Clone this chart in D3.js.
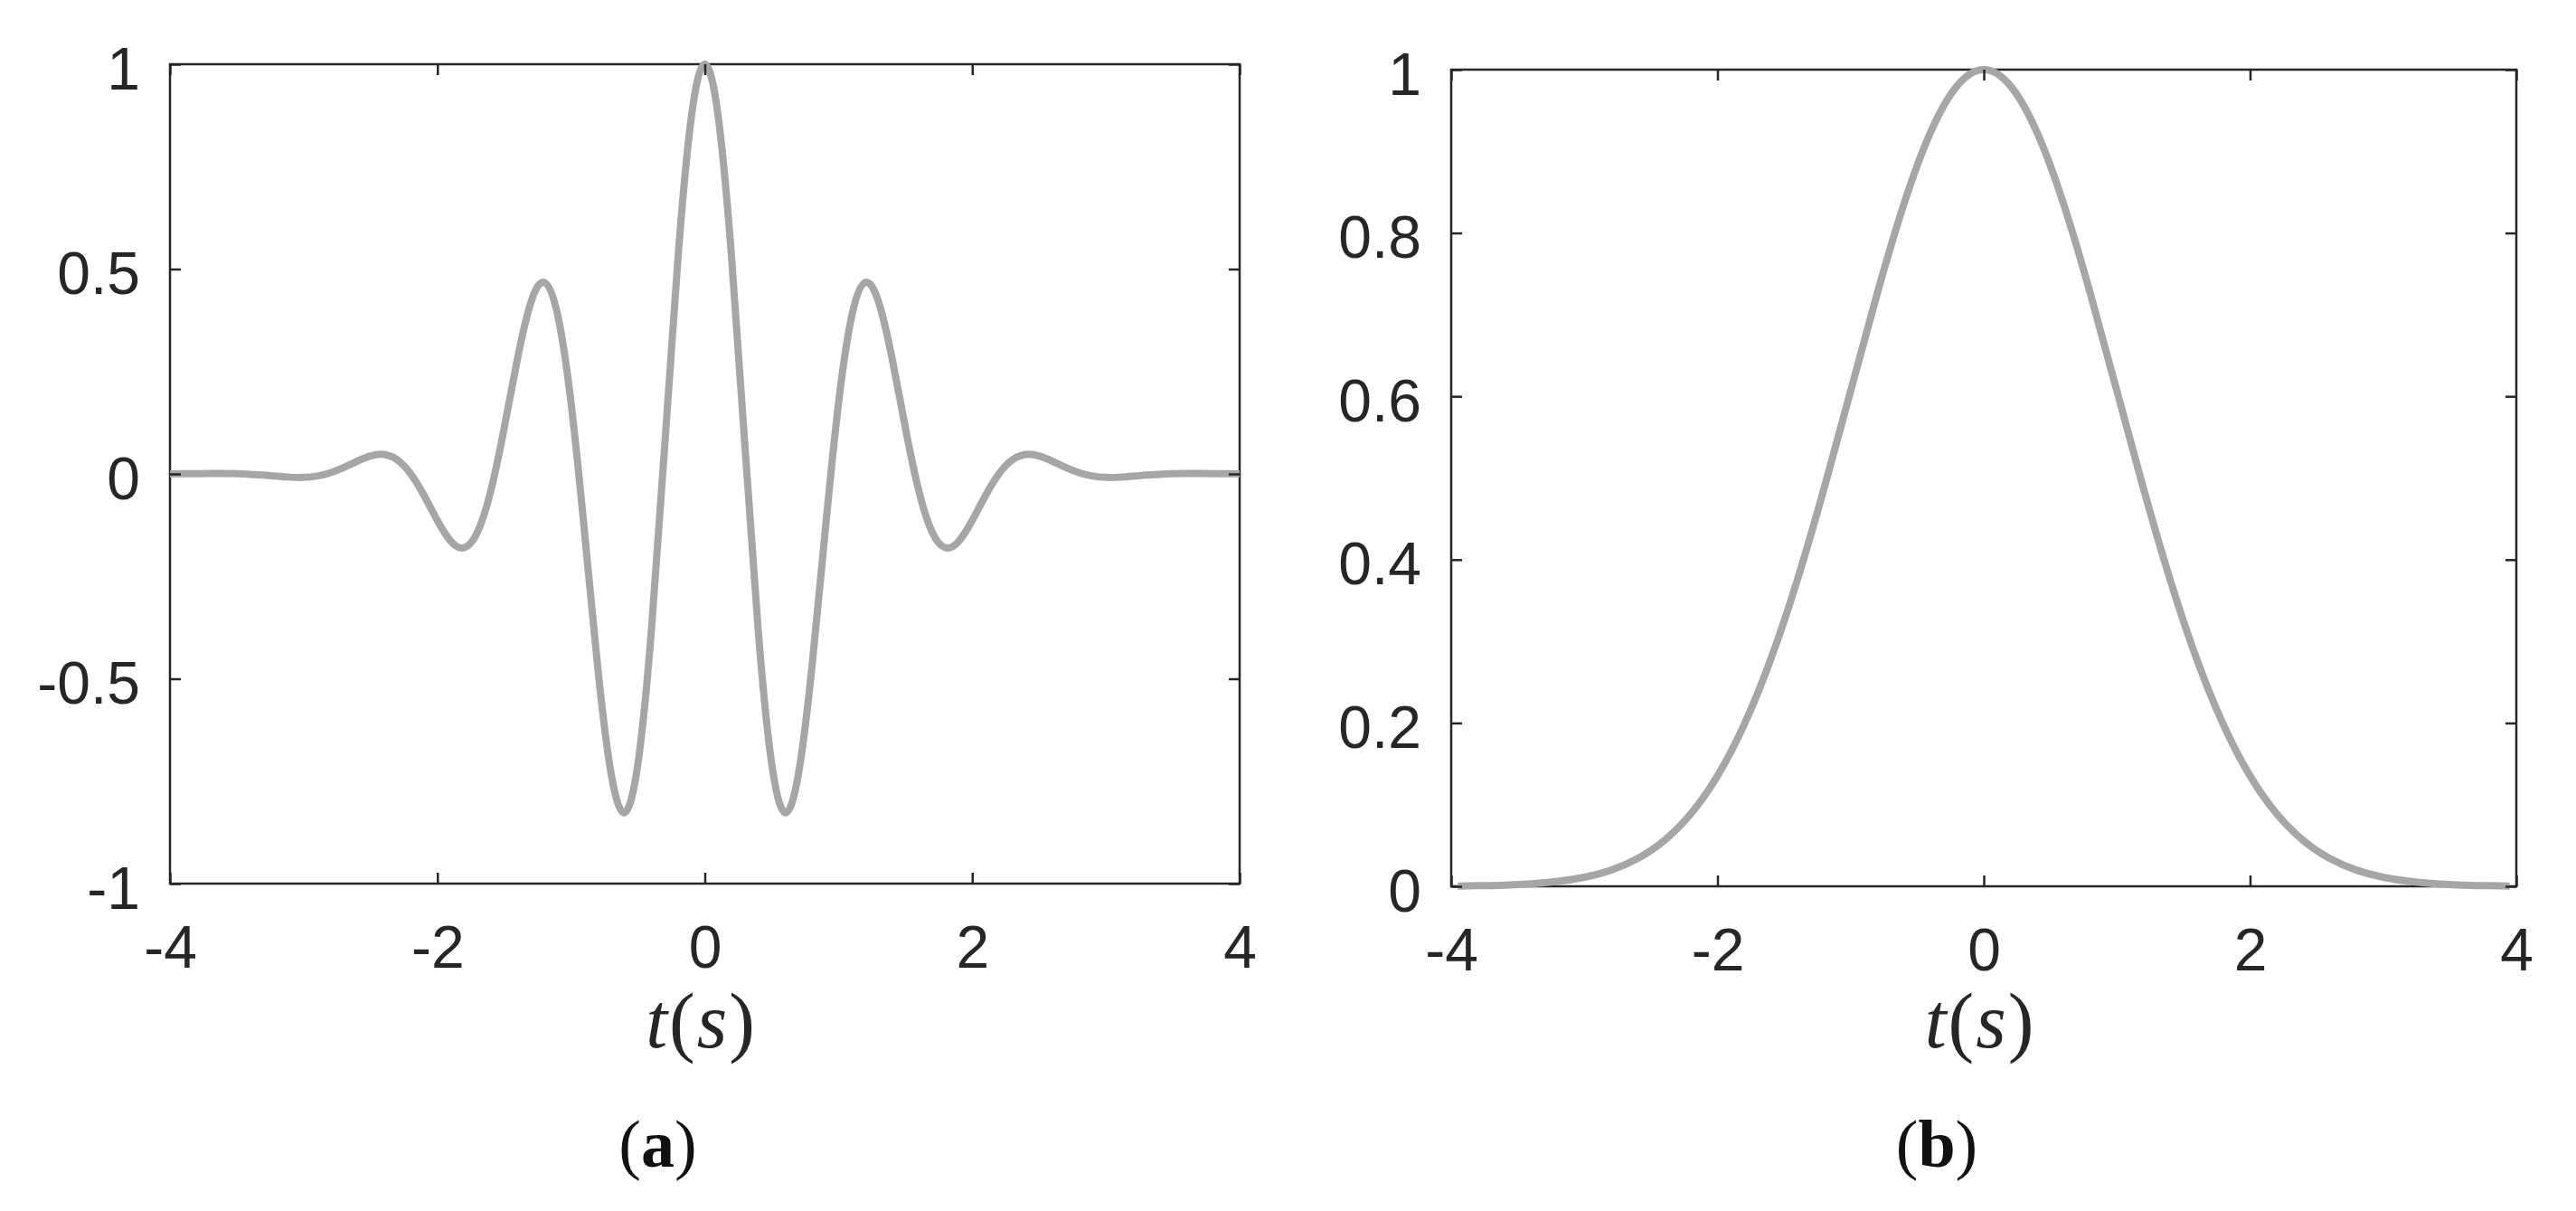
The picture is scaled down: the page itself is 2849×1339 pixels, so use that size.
<!DOCTYPE html>
<html>
<head>
<meta charset="utf-8">
<script src="https://cdn.jsdelivr.net/npm/d3@7"></script>
<style>
body { margin: 0; background: #fff; }
</style>
</head>
<body>
<svg width="2849" height="1339"></svg>
<script>
// values
var tWave = [-4.0, -3.9, -3.8, -3.7, -3.6, -3.5, -3.4, -3.3, -3.2, -3.1,
    -3.0, -2.9, -2.8, -2.7, -2.6, -2.5, -2.4, -2.3, -2.2, -2.1,
    -2.0, -1.9, -1.8, -1.7, -1.6, -1.5, -1.4, -1.3, -1.2, -1.1,
    -1.0, -0.9, -0.8, -0.7, -0.6, -0.5, -0.4, -0.3, -0.2, -0.1,
    0.0, 0.1, 0.2, 0.3, 0.4, 0.5, 0.6, 0.7, 0.8, 0.9,
    1.0, 1.1, 1.2, 1.3, 1.4, 1.5, 1.6, 1.7, 1.8, 1.9,
    2.0, 2.1, 2.2, 2.3, 2.4, 2.5, 2.6, 2.7, 2.8, 2.9,
    3.0, 3.1, 3.2, 3.3, 3.4, 3.5, 3.6, 3.7, 3.8, 3.9, 4.0];
var yWave = [0.0001, 0.0004, 0.0007, 0.0010, 0.0010, 0.0005, -0.0009, -0.0030, -0.0057, -0.0080,
    -0.0084, -0.0053, 0.0027, 0.0155, 0.0309, 0.0438, 0.0474, 0.0343, 0.0004, -0.0524,
    -0.1136, -0.1640, -0.1803, -0.1419, -0.0405, 0.1125, 0.2829, 0.4195, 0.4674, 0.3870,
    0.1720, -0.1406, -0.4746, -0.7330, -0.8269, -0.7070, -0.3842, 0.0676, 0.5296, 0.8732,
    1.0, 0.8732, 0.5296, 0.0676, -0.3842, -0.7070, -0.8269, -0.7330, -0.4746, -0.1406,
    0.1720, 0.3870, 0.4674, 0.4195, 0.2829, 0.1125, -0.0405, -0.1419, -0.1803, -0.1640,
    -0.1136, -0.0524, 0.0004, 0.0343, 0.0474, 0.0438, 0.0309, 0.0155, 0.0027, -0.0053,
    -0.0084, -0.0080, -0.0057, -0.0030, -0.0009, 0.0005, 0.0010, 0.0010, 0.0007, 0.0004, 0.0001];

var tGauss = [-3.95, -3.8, -3.6, -3.4, -3.2, -3.0, -2.8, -2.6, -2.4, -2.2,
    -2.0, -1.8, -1.6, -1.4, -1.2, -1.0, -0.8, -0.6, -0.4, -0.2,
    0.0, 0.2, 0.4, 0.6, 0.8, 1.0, 1.2, 1.4, 1.6, 1.8,
    2.0, 2.2, 2.4, 2.6, 2.8, 3.0, 3.2, 3.4, 3.6, 3.8, 3.95];
var yGauss = [0.0004, 0.0007, 0.0015, 0.0031, 0.0060, 0.0111, 0.0198, 0.0340, 0.0561, 0.0889,
    0.1353, 0.1979, 0.2780, 0.3753, 0.4868, 0.6065, 0.7261, 0.8353, 0.9231, 0.9802,
    1.0, 0.9802, 0.9231, 0.8353, 0.7261, 0.6065, 0.4868, 0.3753, 0.2780, 0.1979,
    0.1353, 0.0889, 0.0561, 0.0340, 0.0198, 0.0111, 0.0060, 0.0031, 0.0015, 0.0007, 0.0004];

var xTicks = [-4, -2, 0, 2, 4];
var yTicksA = [-1, -0.5, 0, 0.5, 1];
var yTicksB = [0, 0.2, 0.4, 0.6, 0.8, 1];
var captions = ['a', 'b'];

var svg = d3.select('svg');
var axisColor = '#262626';
var lineColor = '#a6a6a6';
var tickFont = '"Liberation Sans", Arial, sans-serif';
var mathFont = '"Liberation Serif", "Times New Roman", serif';

function drawPanel(box, tArr, yArr, yDomain, yTicks, cap) {
    var x = d3.scaleLinear().domain([-4, 4]).range([box.x0, box.x1]);
    var y = d3.scaleLinear().domain(yDomain).range([box.y1, box.y0]);
    var g = svg.append('g');

    // box
    g.append('rect').
        attr('x', box.x0).attr('y', box.y0).
        attr('width', box.x1 - box.x0).attr('height', box.y1 - box.y0).
        attr('fill', 'none').attr('stroke', axisColor).attr('stroke-width', 2.5);

    // curve
    var pts = tArr.map(function (t, i) { return [t, yArr[i]]; });
    var line = d3.line().
        x(function (d) { return x(d[0]); }).
        y(function (d) { return y(d[1]); }).
        curve(d3.curveNatural);
    g.append('path').
        attr('d', line(pts)).
        attr('fill', 'none').
        attr('stroke', lineColor).
        attr('stroke-width', 8).
        attr('stroke-linejoin', 'round');

    // ticks on all four sides, pointing in
    var left = g.append('g').attr('transform', 'translate(' + box.x0 + ',0)').
        call(d3.axisLeft(y).tickValues(yTicks).tickSizeInner(-12).tickSizeOuter(0).
            tickPadding(33).tickFormat(function (d) { return String(d); }));
    left.selectAll('text').attr('dy', 27);
    g.append('g').attr('transform', 'translate(' + box.x1 + ',0)').
        call(d3.axisRight(y).tickValues(yTicks).tickSizeInner(-12).tickSizeOuter(0).tickFormat(''));
    g.append('g').attr('transform', 'translate(0,' + box.y1 + ')').
        call(d3.axisBottom(x).tickValues(xTicks).tickSizeInner(-12).tickSizeOuter(0).
            tickPadding(46).tickFormat(function (d) { return String(d); }));
    g.append('g').attr('transform', 'translate(0,' + box.y0 + ')').
        call(d3.axisTop(x).tickValues(xTicks).tickSizeInner(-12).tickSizeOuter(0).tickFormat(''));

    g.selectAll('.domain').remove();
    g.selectAll('.tick line').attr('stroke', axisColor).attr('stroke-width', 2.5);
    g.selectAll('.tick text').
        attr('fill', axisColor).
        attr('font-family', tickFont).
        attr('font-size', 66);

    // x label t(s)
    var lab = g.append('text').
        attr('x', x(0) - 4).attr('y', 1158).
        attr('text-anchor', 'middle').
        attr('font-family', mathFont).
        attr('font-size', 86).
        attr('letter-spacing', 2).
        attr('fill', axisColor);
    lab.append('tspan').attr('font-style', 'italic').text('t');
    lab.append('tspan').text('(');
    lab.append('tspan').attr('font-style', 'italic').text('s');
    lab.append('tspan').text(')');

    // caption
    var c = g.append('text').
        attr('x', x(0) - 52).attr('y', 1290).
        attr('text-anchor', 'middle').
        attr('font-family', mathFont).
        attr('font-size', 74).
        attr('fill', '#111');
    c.append('tspan').text('(');
    c.append('tspan').attr('font-weight', 'bold').text(cap);
    c.append('tspan').text(')');
}

drawPanel({ x0: 188, x1: 1371, y0: 71, y1: 977 }, tWave, yWave, [-1, 1], yTicksA, captions[0]);
drawPanel({ x0: 1605, x1: 2783, y0: 77, y1: 980 }, tGauss, yGauss, [0, 1], yTicksB, captions[1]);
</script>
</body>
</html>
